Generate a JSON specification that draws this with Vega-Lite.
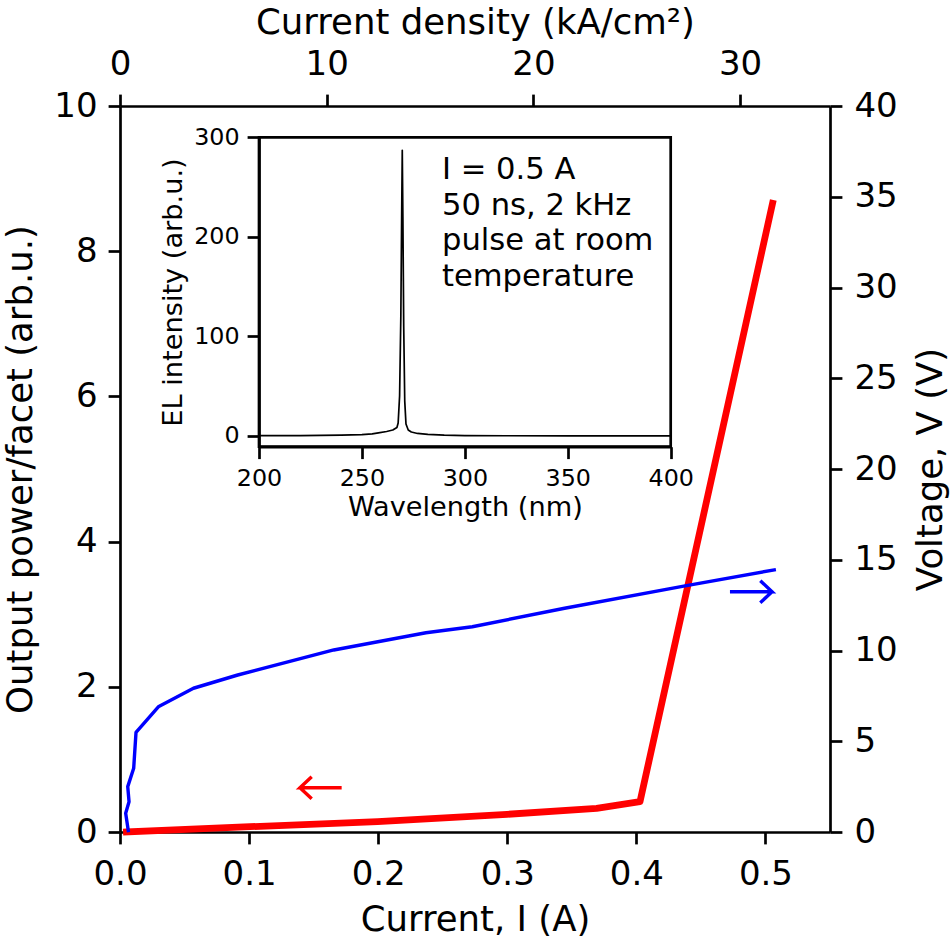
{
  "$schema": "https://vega.github.io/schema/vega-lite/v6.json",
  "width": 710,
  "height": 726,
  "autosize": {"type": "none"},
  "padding": {"left": 120, "top": 106, "right": 120, "bottom": 106},
  "background": "white",
  "config": {
    "view": {"stroke": null},
    "font": "DejaVu Sans",
    "axis": {
      "grid": false,
      "domainColor": "black",
      "domainWidth": 2.7,
      "tickColor": "black",
      "tickWidth": 2.7,
      "tickSize": 11.9,
      "labelColor": "black",
      "titleColor": "black",
      "labelFont": "DejaVu Sans",
      "titleFont": "DejaVu Sans",
      "titleFontWeight": "normal",
      "labelFontSize": 34,
      "titleFontSize": 35.5,
      "labelOverlap": false,
      "labelFlush": false
    }
  },
  "datasets": {
    "power": [
      {"I": 0.005, "P": 0.0},
      {"I": 0.1007, "P": 0.073},
      {"I": 0.1996, "P": 0.142},
      {"I": 0.2998, "P": 0.244},
      {"I": 0.3692, "P": 0.326},
      {"I": 0.4028, "P": 0.417},
      {"I": 0.5055, "P": 8.66}
    ],
    "voltage": [
      {"I": 0.0064, "V": 0.08},
      {"I": 0.0044, "V": 1.03},
      {"I": 0.007, "V": 1.67},
      {"I": 0.006, "V": 2.5},
      {"I": 0.0106, "V": 3.51},
      {"I": 0.0124, "V": 5.49},
      {"I": 0.0297, "V": 6.9},
      {"I": 0.0569, "V": 7.92},
      {"I": 0.0912, "V": 8.65},
      {"I": 0.1656, "V": 10.03},
      {"I": 0.237, "V": 10.98},
      {"I": 0.2729, "V": 11.31},
      {"I": 0.3444, "V": 12.33},
      {"I": 0.4367, "V": 13.55},
      {"I": 0.5068, "V": 14.44}
    ],
    "powerArrow": [
      {"I": 0.1717, "P": 0.61},
      {"I": 0.1394, "P": 0.61},
      {"I": 0.1485, "P": 0.762},
      {"I": 0.1394, "P": 0.61},
      {"I": 0.1485, "P": 0.458}
    ],
    "voltageArrow": [
      {"I": 0.4725, "V": 13.24},
      {"I": 0.5051, "V": 13.24},
      {"I": 0.496, "V": 13.846},
      {"I": 0.5051, "V": 13.24},
      {"I": 0.496, "V": 12.634}
    ],
    "density": [
      {"J": 0},
      {"J": 34.35}
    ],
    "spectrum": [
      {"wl": 200, "inten": 0.3},
      {"wl": 220, "inten": 0.4},
      {"wl": 240, "inten": 0.8},
      {"wl": 250, "inten": 1.3},
      {"wl": 255, "inten": 2.0},
      {"wl": 258, "inten": 3.0},
      {"wl": 262, "inten": 4.5},
      {"wl": 265, "inten": 6.0},
      {"wl": 267, "inten": 8.5},
      {"wl": 267.6, "inten": 13},
      {"wl": 268.3, "inten": 40},
      {"wl": 268.9, "inten": 120},
      {"wl": 269.3, "inten": 220},
      {"wl": 269.6, "inten": 287},
      {"wl": 269.9, "inten": 220},
      {"wl": 270.3, "inten": 110},
      {"wl": 270.8, "inten": 35},
      {"wl": 271.4, "inten": 12},
      {"wl": 272.5, "inten": 6},
      {"wl": 274, "inten": 4},
      {"wl": 277, "inten": 2.5},
      {"wl": 282, "inten": 1.5},
      {"wl": 290, "inten": 0.8},
      {"wl": 300, "inten": 0.4},
      {"wl": 320, "inten": 0.2},
      {"wl": 350, "inten": 0.1},
      {"wl": 400, "inten": 0.0}
    ],
    "note": [
      {"wl": 288.9, "inten": 257.8, "text": "I = 0.5 A\n50 ns, 2 kHz\npulse at room\ntemperature"}
    ]
  },
  "layer": [
    {
      "data": {"name": "power"},
      "mark": {"type": "line", "color": "#ff0000", "strokeWidth": 6.8, "strokeCap": "square", "strokeJoin": "round"},
      "encoding": {
        "x": {
          "field": "I", "type": "quantitative",
          "scale": {"domain": [0, 0.55], "nice": false, "zero": false},
          "axis": {"orient": "bottom", "title": "Current, I (A)", "values": [0, 0.1, 0.2, 0.3, 0.4, 0.5], "format": ".1f", "labelPadding": 14, "titlePadding": 11}
        },
        "y": {
          "field": "P", "type": "quantitative",
          "scale": {"domain": [0, 10], "nice": false, "zero": false},
          "axis": {"orient": "left", "title": "Output power/facet (arb.u.)", "values": [0, 2, 4, 6, 8, 10], "labelPadding": 11, "titlePadding": 15}
        },
        "order": {"value": null}
      }
    },
    {
      "data": {"name": "powerArrow"},
      "mark": {"type": "line", "color": "#ff0000", "strokeWidth": 3.4, "strokeCap": "butt", "strokeJoin": "miter"},
      "encoding": {
        "x": {"field": "I", "type": "quantitative", "scale": {"domain": [0, 0.55], "nice": false, "zero": false}, "axis": null},
        "y": {"field": "P", "type": "quantitative", "scale": {"domain": [0, 10], "nice": false, "zero": false}, "axis": null},
        "order": {"value": null}
      }
    },
    {
      "data": {"name": "voltage"},
      "mark": {"type": "line", "color": "#0000ff", "strokeWidth": 3.4, "strokeCap": "square", "strokeJoin": "round"},
      "encoding": {
        "x": {"field": "I", "type": "quantitative", "scale": {"domain": [0, 0.55], "nice": false, "zero": false}, "axis": null},
        "y": {
          "field": "V", "type": "quantitative",
          "scale": {"domain": [0, 40], "nice": false, "zero": false},
          "axis": {"orient": "right", "title": "Voltage, V (V)", "values": [0, 5, 10, 15, 20, 25, 30, 35, 40], "labelPadding": 12, "titlePadding": 16, "titleAngle": 270, "titleBaseline": "top"}
        },
        "order": {"value": null}
      }
    },
    {
      "data": {"name": "voltageArrow"},
      "mark": {"type": "line", "color": "#0000ff", "strokeWidth": 3.4, "strokeCap": "butt", "strokeJoin": "miter"},
      "encoding": {
        "x": {"field": "I", "type": "quantitative", "scale": {"domain": [0, 0.55], "nice": false, "zero": false}, "axis": null},
        "y": {"field": "V", "type": "quantitative", "scale": {"domain": [0, 40], "nice": false, "zero": false}, "axis": null},
        "order": {"value": null}
      }
    },
    {
      "data": {"name": "density"},
      "mark": {"type": "point", "opacity": 0},
      "encoding": {
        "x": {
          "field": "J", "type": "quantitative",
          "scale": {"domain": [0, 34.35], "nice": false, "zero": false},
          "axis": {"orient": "top", "title": "Current density (kA/cm²)", "values": [0, 10, 20, 30], "labelPadding": 13, "titlePadding": 7}
        }
      }
    },
    {
      "data": {"name": "note"},
      "mark": {"type": "rect", "fill": "white", "fillOpacity": 0, "stroke": "black", "strokeWidth": 2.7},
      "encoding": {
        "x": {"datum": 200, "type": "quantitative", "scale": {"domain": [200, 400], "range": [139, 550.7], "nice": false, "zero": false}, "axis": null},
        "x2": {"datum": 400},
        "y": {"datum": -10.8, "type": "quantitative", "scale": {"domain": [-10.8, 300], "range": [340.7, 31.3], "nice": false, "zero": false}, "axis": null},
        "y2": {"datum": 300}
      }
    },
    {
      "data": {"name": "spectrum"},
      "mark": {"type": "line", "color": "black", "strokeWidth": 1.7, "strokeJoin": "round"},
      "encoding": {
        "x": {
          "field": "wl", "type": "quantitative",
          "scale": {"domain": [200, 400], "range": [139, 550.7], "nice": false, "zero": false},
          "axis": {"orient": "bottom", "offset": -385.3, "zindex": 1, "title": "Wavelength (nm)", "values": [200, 250, 300, 350, 400], "labelFontSize": 23.8, "titleFontSize": 27.2, "labelPadding": 8, "titlePadding": 4}
        },
        "y": {
          "field": "inten", "type": "quantitative",
          "scale": {"domain": [-10.8, 300], "range": [340.7, 31.3], "nice": false, "zero": false},
          "axis": {"orient": "left", "offset": -139, "zindex": 1, "title": "EL intensity (arb.u.)", "values": [0, 100, 200, 300], "labelFontSize": 23.8, "titleFontSize": 27.2, "labelPadding": 8, "titlePadding": 6}
        },
        "order": {"value": null}
      }
    },
    {
      "data": {"name": "note"},
      "mark": {"type": "text", "align": "left", "baseline": "alphabetic", "fontSize": 30.6, "lineHeight": 35.5, "lineBreak": "\n", "color": "black", "font": "DejaVu Sans"},
      "encoding": {
        "x": {"field": "wl", "type": "quantitative", "scale": {"domain": [200, 400], "range": [139, 550.7], "nice": false, "zero": false}, "axis": null},
        "y": {"field": "inten", "type": "quantitative", "scale": {"domain": [-10.8, 300], "range": [340.7, 31.3], "nice": false, "zero": false}, "axis": null},
        "text": {"field": "text"}
      }
    }
  ],
  "resolve": {"scale": {"x": "independent", "y": "independent"}}
}
